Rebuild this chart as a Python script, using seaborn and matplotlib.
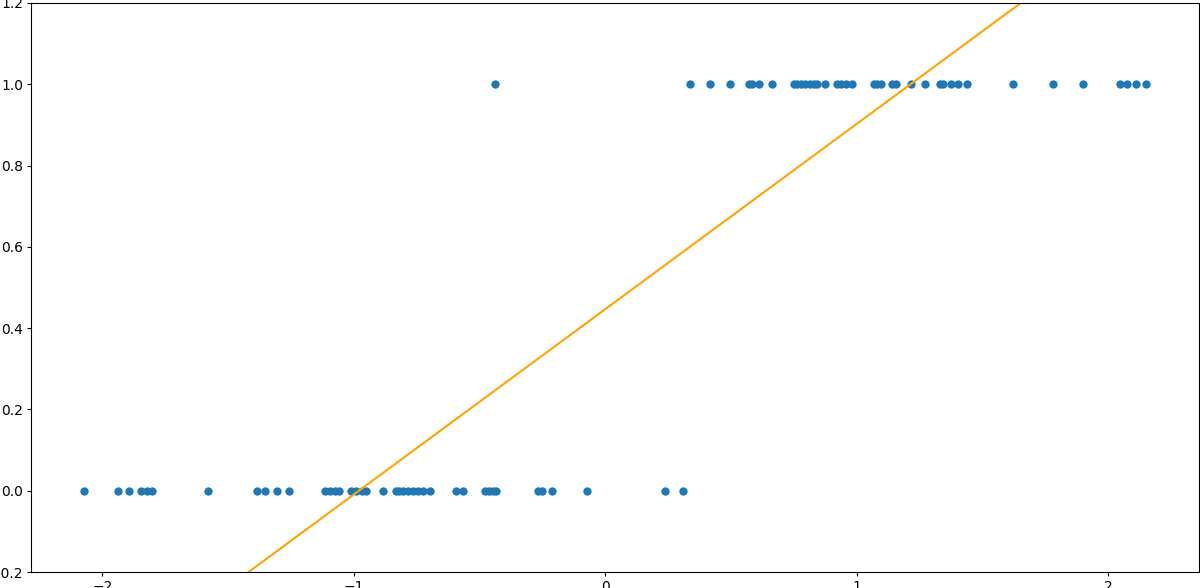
import numpy as np
import pandas as pd
import matplotlib
matplotlib.use("Agg")
import matplotlib.pyplot as plt
import seaborn as sns

# class 0 points (y = 0)
x_class0 = [-2.073, -1.938, -1.894, -1.846, -1.823, -1.803, -1.580, -1.385, -1.353,
            -1.305, -1.257, -1.114, -1.094, -1.074, -1.058, -1.011, -0.991, -0.967,
            -0.951, -0.883, -0.832, -0.820, -0.804, -0.784, -0.764, -0.744, -0.724,
            -0.696, -0.593, -0.565, -0.478, -0.462, -0.446, -0.434, -0.267, -0.251,
            -0.211, -0.072, 0.235, 0.310]
# class 1 points (y = 1)
x_class1 = [-0.439, 0.338, 0.417, 0.496, 0.570, 0.584, 0.610, 0.662, 0.749, 0.763,
            0.779, 0.795, 0.812, 0.828, 0.841, 0.874, 0.920, 0.938, 0.958, 0.982,
            1.066, 1.078, 1.094, 1.140, 1.154, 1.216, 1.272, 1.329, 1.342, 1.373,
            1.400, 1.438, 1.621, 1.780, 1.897, 2.045, 2.072, 2.109, 2.149]

# linear fit
slope = 0.456
intercept = 0.447

x_all = np.array(x_class0 + x_class1)
y_all = np.array([0.0] * len(x_class0) + [1.0] * len(x_class1))
df = pd.DataFrame({"x": x_all, "y": y_all})

fig = plt.figure(figsize=(12, 5.88), dpi=100)
ax = fig.add_axes([31 / 1200, 1 - 572 / 588, (1199 - 31) / 1200, (572 - 3) / 588])

sns.scatterplot(data=df, x="x", y="y", ax=ax, color="#1f77b4", s=36,
                linewidth=0, edgecolor="face")

x_line = np.linspace(x_all.min(), x_all.max(), 100)
line_df = pd.DataFrame({"x": x_line, "y": intercept + slope * x_line})
sns.lineplot(data=line_df, x="x", y="y", ax=ax, color="orange", linewidth=1.5)

ax.set_ylim(-0.2, 1.2)
ax.set_xlabel("")
ax.set_ylabel("")
ax.tick_params(axis="both", length=2.6, pad=3)

fig.savefig("out.png", dpi=100)
